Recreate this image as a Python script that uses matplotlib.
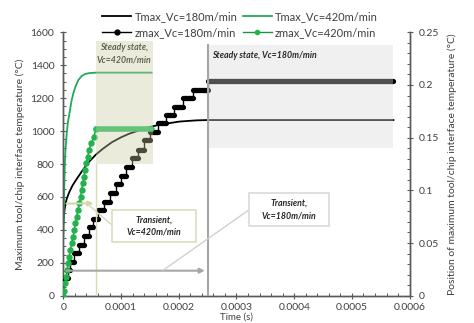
import matplotlib
matplotlib.use("Agg")
import matplotlib.pyplot as plt
from matplotlib.patches import Rectangle
from matplotlib.lines import Line2D
from matplotlib.ticker import FixedLocator, MultipleLocator

plt.rcParams['font.family'] = ['Lato', 'DejaVu Sans']

# Maximum interface temperature, time in microseconds
t_tmax180 = [0, 1, 3, 6, 10.4, 16, 22, 33.6, 45, 56.7, 68.3, 84, 100, 112.7, 141.7, 167.7, 202, 230, 250, 572]
tmax180 = [440, 490, 545, 590, 630, 670, 703, 763, 815, 858, 892, 932, 962, 982, 1017, 1040, 1058, 1065, 1067, 1067]

t_tmax420 = [0, 0.5, 1, 2, 3, 4, 6, 8, 11.6, 14, 17.3, 21, 26, 32, 38, 45, 56, 153]
tmax420 = [350, 420, 560, 720, 830, 900, 990, 1055, 1128, 1180, 1229, 1270, 1310, 1335, 1347, 1352, 1355, 1355]

# Position of the maximum (mm), stepped for Vc=180: level and start time of each step
z180_levels = [0.0166, 0.0245, 0.0324, 0.0405, 0.0484, 0.0566, 0.0650, 0.0731, 0.0812, 0.0893,
               0.0976, 0.1058, 0.1140, 0.1225, 0.1305, 0.1385, 0.1474, 0.1555, 0.1636, 0.1716,
               0.1795, 0.1874, 0.1953]
z180_start = [0, 8.1, 11.6, 18.6, 27.2, 35.9, 43.7, 50.6, 60.2, 70.6, 81.0, 90.5, 99.2, 108.7,
              119.1, 128.7, 139.1, 150.3, 163.3, 178.1, 191.9, 207.5, 224.9]
z180_steady = 0.2039
t180_steady = [250, 572]

# Vc=420 transient points and steady value
t_z420 = [0, 1.2, 2.9, 4.7, 6.4, 8.2, 10.4, 12.1, 14.6, 16.8, 19.1, 20.8, 23.2, 25.5, 27.7,
          29.8, 31.6, 33.6, 35.5, 37.6, 39.7, 42.0, 44.6, 48.1, 53.2]
z420 = [0, 0.0048, 0.0118, 0.0180, 0.0244, 0.0308, 0.0370, 0.0434, 0.0497, 0.0560, 0.0624,
        0.0687, 0.0750, 0.0813, 0.0877, 0.0940, 0.1003, 0.1067, 0.1129, 0.1193, 0.1256,
        0.1319, 0.1383, 0.1446, 0.1509]
z420_steady = 0.158
t420_steady = [56, 153]

us = 1e-6
axis_col = '#595959'
text_col = '#404040'

fig = plt.figure(figsize=(4.74, 3.23), dpi=100)
ax = fig.add_axes([0.1336, 0.0845, 0.7306, 0.8155])
ax2 = ax.twinx()

# temperature curves
ax.plot([t * us for t in t_tmax180], tmax180, color='black', lw=1.3, zorder=3)
ax.plot([t * us for t in t_tmax420], tmax420, color='#21a95a', lw=1.3, zorder=3)

# stepped position for Vc=180
stair_t, stair_z = [], []
ends = z180_start[1:] + [t180_steady[0]]
for z, t0, t1 in zip(z180_levels, z180_start, ends):
    stair_t += [t0 * us, t1 * us]
    stair_z += [z, z]
    ax2.plot([t0 * us, t1 * us], [z, z], color='black', lw=3.8, solid_capstyle='round', zorder=4)
stair_t += [t180_steady[0] * us, t180_steady[1] * us]
stair_z += [z180_steady, z180_steady]
ax2.plot(stair_t, stair_z, color='black', lw=1, zorder=4)
ax2.plot([t * us for t in t180_steady], [z180_steady] * 2, color='black', lw=3.8,
         solid_capstyle='round', zorder=4)

# position for Vc=420
ax2.plot([t * us for t in t_z420] + [t420_steady[0] * us], z420 + [z420_steady],
         color='#1a9641', lw=1, marker='o', ms=3.6, mfc='#22b24c', mec='#22b24c', zorder=5)
ax2.plot([t * us for t in t420_steady], [z420_steady] * 2, color='#2bbd62', lw=4,
         solid_capstyle='round', zorder=5)

# shaded steady-state zones laid over the curves
ax2.add_patch(Rectangle((56 * us, 800), 99 * us, 750, transform=ax.transData,
                        facecolor='#cbcba2', alpha=0.37, lw=0, zorder=6))
ax2.add_patch(Rectangle((250 * us, 900), 322 * us, 625, transform=ax.transData,
                        facecolor='#d8d8d8', alpha=0.37, lw=0, zorder=6))
ax2.plot([250 * us, 250 * us], [0, 0.2383], color='#a6a6a6', lw=1.5, zorder=7)
ax2.plot([57 * us, 57 * us], [0, 0.125], color='#d6dcb4', lw=1, zorder=7)

bold_it = dict(fontsize=6.3, fontweight='bold', fontstyle='italic', color='#262626', zorder=9)
ax.text(105 * us, 1468, 'Steady state,\nVc=420m/min', ha='center', va='center',
        transform=ax.transData, linespacing=1.5, **bold_it)
ax2.text(258 * us, 1462 / 6400, 'Steady state, Vc=180m/min', ha='left', va='center', **bold_it)

# transient annotations
ax2.annotate('', xy=(57 * us, 560 / 6400), xytext=(0.5 * us, 560 / 6400),
             arrowprops=dict(arrowstyle='-|>', color='#cfd7ad', lw=1.5, mutation_scale=7), zorder=8)
ax2.plot([43 * us, 84 * us], [553 / 6400, 430 / 6400], color='#d6dcb4', lw=1, zorder=8)
ax2.add_patch(Rectangle((84 * us, 328 / 6400), 146 * us, 192 / 6400, facecolor='white',
                        edgecolor='#d9dfbf', lw=1.2, zorder=8))
ax2.text(157 * us, 424 / 6400, 'Transient,\nVc=420m/min', ha='center', va='center',
         linespacing=1.5, **bold_it)

ax2.annotate('', xy=(250 * us, 152 / 6400), xytext=(0.5 * us, 152 / 6400),
             arrowprops=dict(arrowstyle='-|>', color='#a6a6a6', lw=1.5, mutation_scale=7), zorder=8)
ax2.plot([173 * us, 321 * us], [155 / 6400, 520 / 6400], color='#d0d0d0', lw=1, zorder=8)
ax2.add_patch(Rectangle((321 * us, 423 / 6400), 140 * us, 199 / 6400, facecolor='white',
                        edgecolor='#d9d9d9', lw=1.2, zorder=8))
ax2.text(391 * us, 522 / 6400, 'Transient,\nVc=180m/min', ha='center', va='center',
         linespacing=1.5, **bold_it)

# axes, ticks, labels
ax.set_xlim(0, 0.0006)
ax.set_ylim(0, 1600)
ax2.set_ylim(0, 0.25)

x_ticks = [0, 0.0001, 0.0002, 0.0003, 0.0004, 0.0005, 0.0006]
x_labels = ['0', '0.0001', '0.0002', '0.0003', '0.0004', '0.0005', '0.0006']
z_ticks = [0, 0.05, 0.1, 0.15, 0.2, 0.25]
z_labels = ['0', '0.05', '0.1', '0.15', '0.2', '0.25']

ax.xaxis.set_major_locator(FixedLocator(x_ticks))
ax.set_xticklabels(x_labels)
ax.xaxis.set_minor_locator(MultipleLocator(0.00002))
ax.yaxis.set_major_locator(MultipleLocator(200))
ax.yaxis.set_minor_locator(MultipleLocator(50))
ax2.yaxis.set_major_locator(FixedLocator(z_ticks))
ax2.set_yticklabels(z_labels)
ax2.yaxis.set_minor_locator(MultipleLocator(0.01))

for a in (ax, ax2):
    a.spines['top'].set_visible(False)
    for s in a.spines.values():
        s.set_color(axis_col)
        s.set_linewidth(1)
    a.tick_params(which='major', direction='inout', length=5, width=0.8, color=axis_col,
                  labelcolor=text_col, labelsize=7.5, pad=4)
    a.tick_params(which='minor', direction='in', length=2.5, width=0.7, color=axis_col)
ax.tick_params(axis='x', pad=3)
ax.patch.set_visible(False)

ax.set_ylabel('Maximum tool/chip interface temperature (°C)', fontsize=7.5, color=text_col, labelpad=4)
ax2.set_ylabel('Position of maximum tool/chip interface temperature (°C)', fontsize=7.5,
               color=text_col, labelpad=6)
ax.set_xlabel('Time (s)', fontsize=7, color=text_col, labelpad=0)

handles = [
    Line2D([], [], color='black', lw=1.3),
    Line2D([], [], color='black', lw=1, marker='o', ms=3.5),
    Line2D([], [], color='#21a95a', lw=1.3),
    Line2D([], [], color='#1a9641', lw=1, marker='o', ms=3, mfc='#22b24c', mec='#22b24c'),
]
labels = ['Tmax_Vc=180m/min', 'zmax_Vc=180m/min', 'Tmax_Vc=420m/min', 'zmax_Vc=420m/min']
fig.legend(handles, labels, ncol=2, loc='center', bbox_to_anchor=(240 / 474, 1 - 24.5 / 323),
           frameon=False, fontsize=8, labelcolor=text_col, handlelength=2.6,
           handletextpad=0.3, columnspacing=0.5, labelspacing=0.45)

fig.savefig('out.png', dpi=100)
